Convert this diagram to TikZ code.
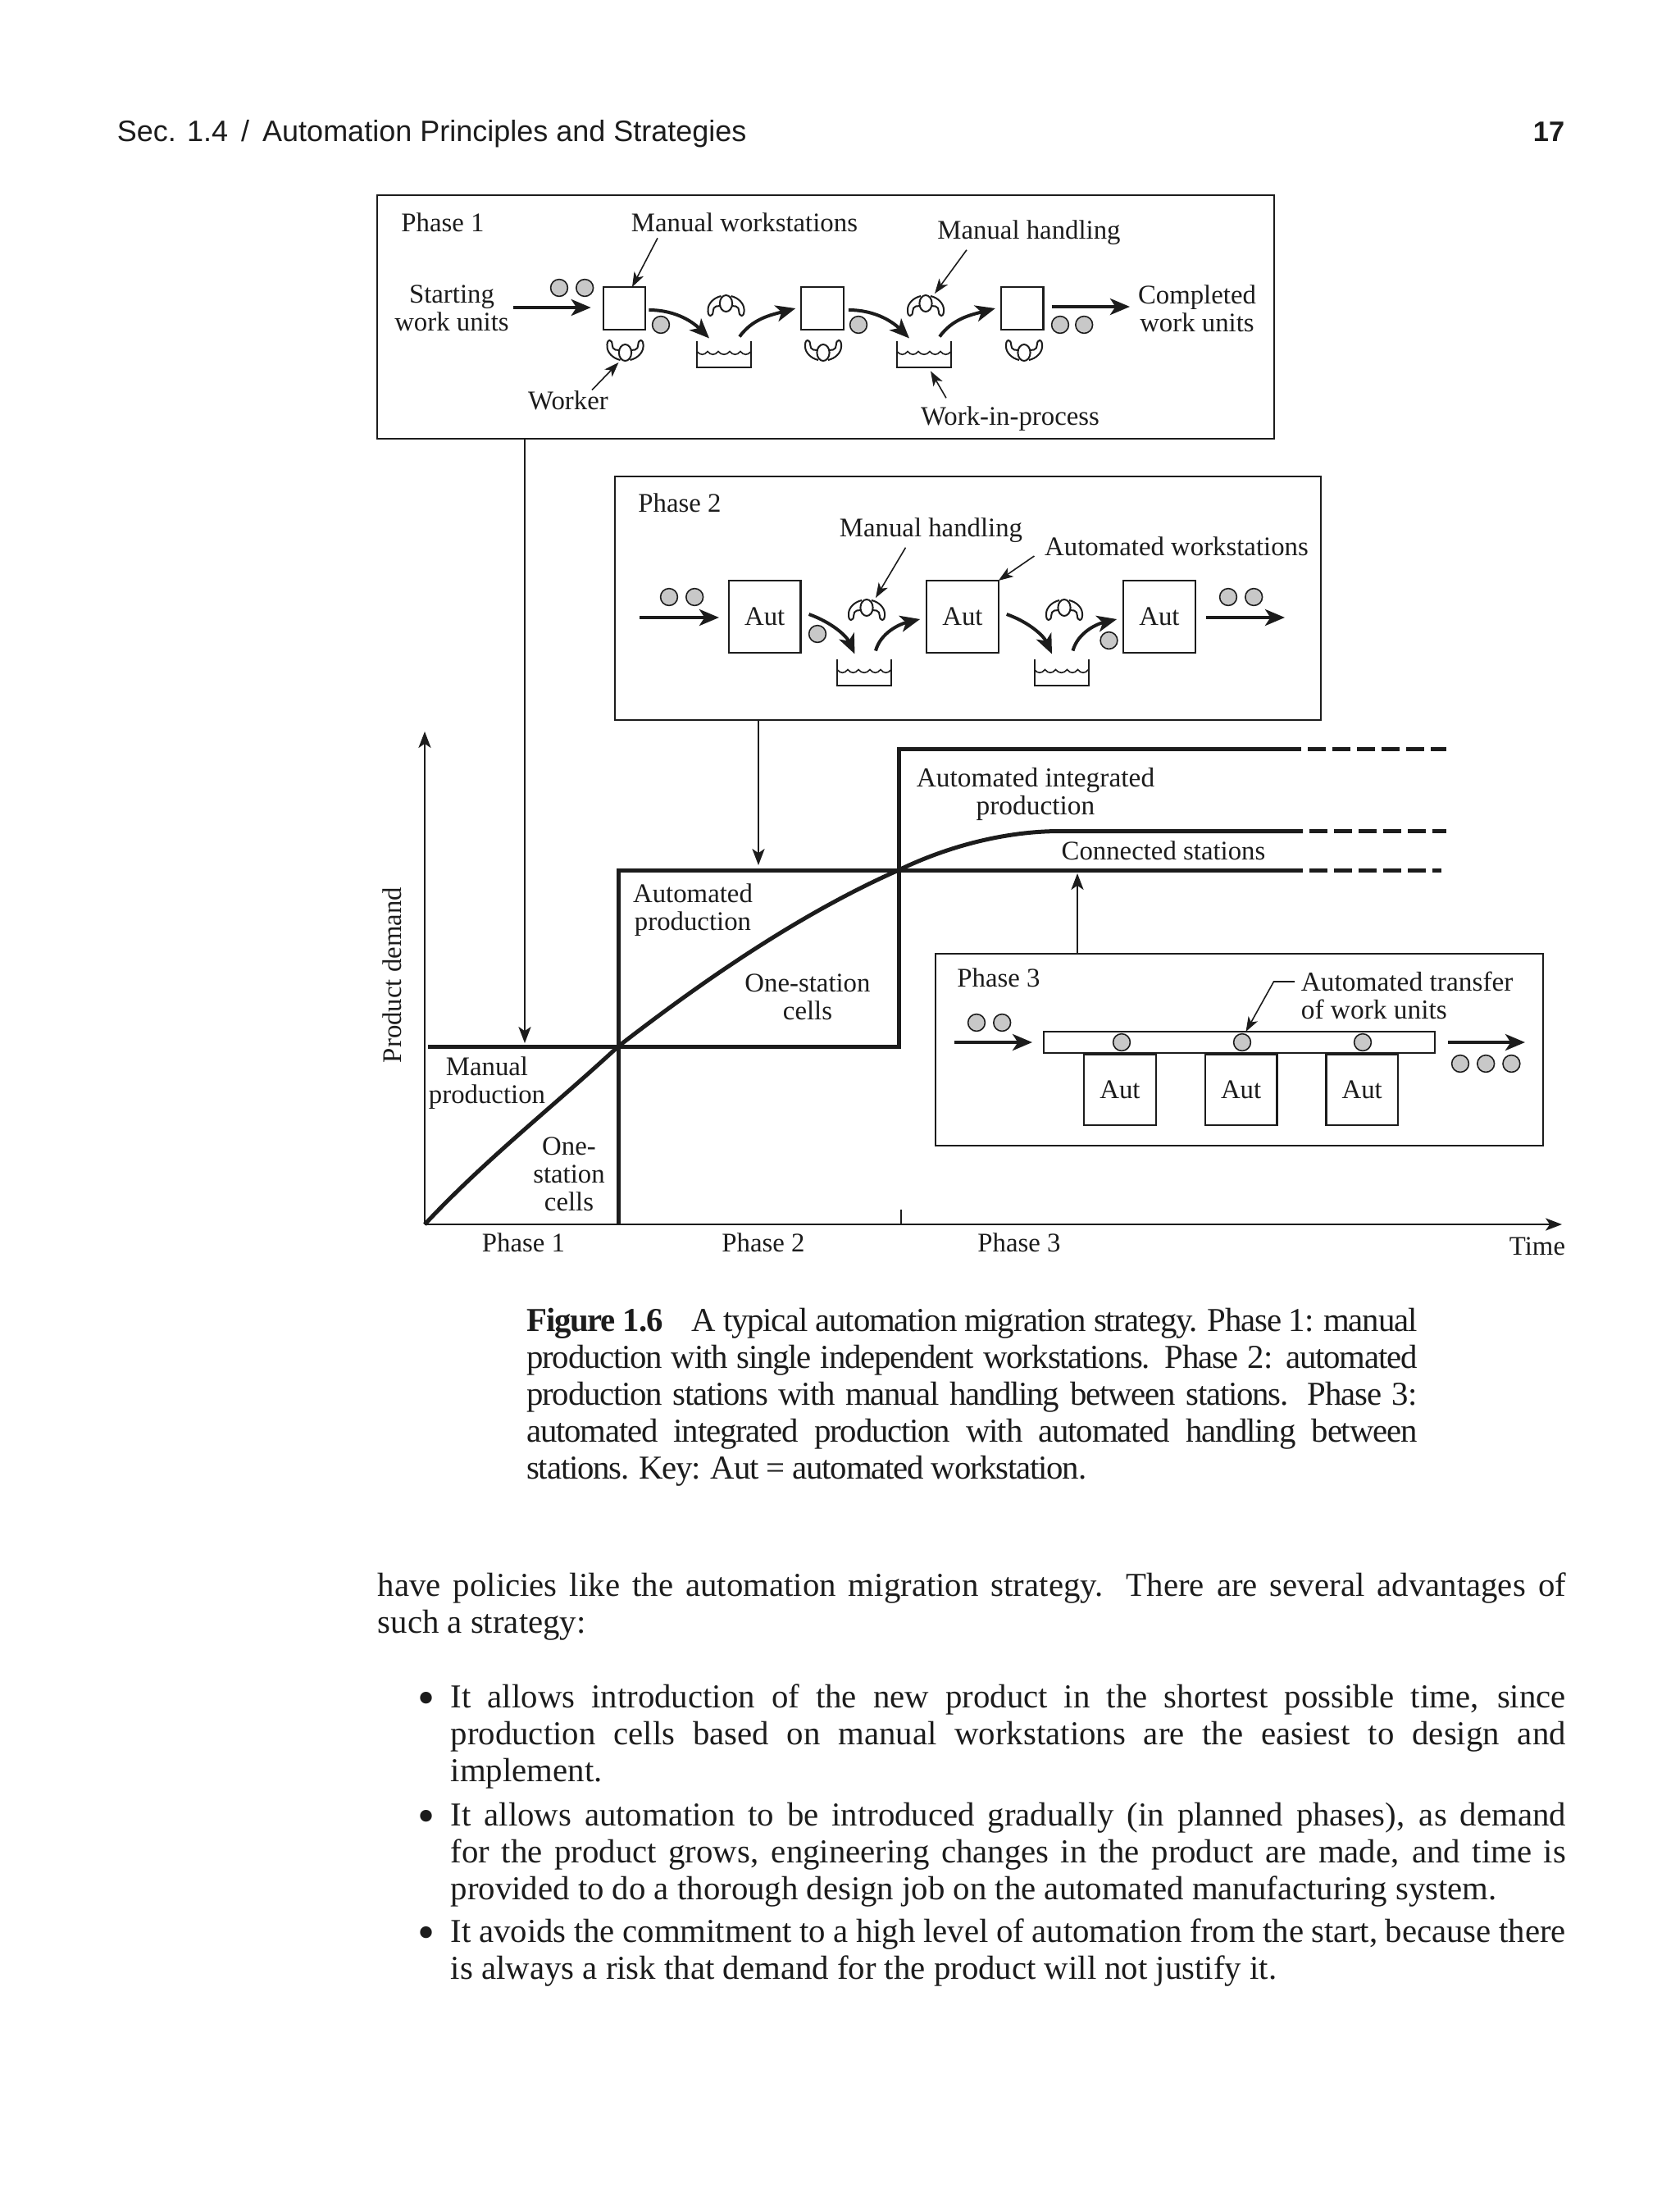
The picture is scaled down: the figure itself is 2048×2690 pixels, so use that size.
\documentclass[tikz,border=0pt]{standalone}
\usepackage{fontspec}
\usepackage{xcolor}
\setmainfont{Liberation Serif}
\newfontfamily\headfont{Liberation Sans}
\newfontfamily\capfont{Liberation Serif}[LetterSpace=-3]
\usetikzlibrary{arrows.meta,positioning}
\definecolor{ink}{RGB}{28,28,28}
\definecolor{partgray}{RGB}{200,200,200}

\begin{document}
\begin{tikzpicture}[
          x=0.25pt, y=-0.25pt,
          color=ink, text=ink,
          font=\fontsize{8.2}{8.5}\selectfont,
          lab/.style={inner sep=0pt, align=center},
          phasebox/.style={draw, line width=0.6pt, inner sep=0pt, outer sep=0pt},
          station/.style={draw, line width=0.55pt, inner sep=0pt, outer sep=0pt, minimum width=12.9pt, minimum height=13pt},
          autbox/.style={draw, line width=0.55pt, inner sep=0pt, outer sep=0pt, minimum width=21.9pt, minimum height=22pt},
          part/.style={circle, draw, line width=0.4pt, fill=partgray, inner sep=0pt, outer sep=0pt, minimum size=5.2pt},
          flow/.style={line width=1pt, -{Stealth[length=6pt, width=5pt, inset=1.6pt]}},
          lead/.style={line width=0.4pt, -{Stealth[length=4.5pt, width=3.2pt, inset=1.2pt]}},
          drop/.style={line width=0.45pt, -{Stealth[length=5pt, width=3.8pt, inset=1.3pt]}},
          stage/.style={line width=1.25pt},
          future/.style={line width=1.25pt, dash pattern=on 5.5pt off 2pt},
          body/.style={inner sep=0pt, anchor=north west, align=justify, font=\fontsize{10.2}{11.25}\selectfont},
          bull/.style={inner sep=0pt, font=\fontsize{15}{15}\selectfont},
          worker/.pic={
            \coordinate (-a) at (-8,12);
            \coordinate (-b) at (11,12);
            \draw[line width=0.5pt] (-7,-3) -- (-12,-3.5) .. controls (-15,-4) and (-15.5,-7) .. (-15.7,-9)
              .. controls (-16,-13) and (-17,-15) .. (-19,-15) .. controls (-21.5,-15) and (-22.3,-11) .. (-22,-7)
              .. controls (-21.7,0) and (-15,7) .. (-6,9);
            \draw[line width=0.5pt] (7,-3) -- (12,-3.5) .. controls (15,-4) and (15.5,-7) .. (15.7,-9)
              .. controls (16,-13) and (17,-15) .. (19,-15) .. controls (21.5,-15) and (22.3,-11) .. (22,-7)
              .. controls (21.7,0) and (15,7) .. (6,9);
            \draw[line width=0.5pt] (0,0) ellipse [x radius=1.9pt, y radius=2.5pt];
          },
          tray/.pic={
            \coordinate (-in) at (-18,-19);
            \coordinate (-out) at (19,-21);
            \coordinate (-base) at (8,21);
            \draw[line width=0.5pt] (-33,-16) -- (-33,16.5) -- (33,16.5) -- (33,-16);
            \draw[line width=0.4pt] (-33,-3) .. controls (-29,2) and (-24,2) .. (-20,-3)
              .. controls (-16,2) and (-11,2) .. (-7,-3) .. controls (-3,2) and (3,2) .. (7,-3)
              .. controls (11,2) and (16,2) .. (20,-3) .. controls (24,2) and (29,2) .. (33,-3);
          }
        ]
          \useasboundingbox (0,0) rectangle (2048,2690);

          \node[lab, anchor=base west, font=\headfont\fontsize{9}{10}\selectfont] (sechead) at (142,172) {Sec. 1.4\ \,/\ \,Automation Principles and Strategies};
          \node[lab, anchor=base east, font=\headfont\bfseries\fontsize{8.6}{10}\selectfont] (pagenum) at (1909,172) {17};

          % phase 1
          \node[phasebox, minimum width=273.5pt, minimum height=74.25pt] (box1) at (1007,386.5) {};
          \node[lab] (p1title) at (540,271) {Phase 1};
          \node[lab] (p1ws) at (908,271) {Manual workstations};
          \node[lab] (p1mh) at (1255,284) {Manual handling};
          \node[lab] (p1start) at (551,376) {Starting\\work units};
          \node[lab] (p1done) at (1460,376) {Completed\\work units};
          \node[lab] (p1worker) at (693,488) {Worker};
          \node[lab] (p1wip) at (1232,511) {Work-in-process};

          \node[station] (ws1) at (761.5,376) {};
          \node[station, right=47.5pt of ws1] (ws2) {};
          \node[station, right=48pt of ws2] (ws3) {};
          \node[part] (p1a) at (682,351) {};
          \node[part, right=2.6pt of p1a] (p1b) {};
          \node[part] (p1c) at (806,396) {};
          \node[part] (p1d) at (1047,396) {};
          \node[part] (p1e) at (1293,396) {};
          \node[part, right=2.1pt of p1e] (p1f) {};

          \pic (w1) at (762.5,430) {worker};
          \pic (w2) at (1004,430) {worker};
          \pic (w3) at (1249,430) {worker};
          \pic[yscale=-1] (w4) at (885.5,370) {worker};
          \pic[yscale=-1] (w5) at (1129,370) {worker};
          \pic (t1) at (883,431.5) {tray};
          \pic (t2) at (1127,431.5) {tray};

          \coordinate (p1inend) at (626,375);
          \coordinate (p1outend) at (1378,374);
          \draw[flow] (p1inend) -- ([xshift=-3.75pt,yshift=0.25pt]ws1.west);
          \draw[flow] ([xshift=1pt,yshift=-0.5pt]ws1.east) .. controls +(35,0) and +(-18,-18) .. (t1-in);
          \draw[flow] (t1-out) .. controls +(16,-22) and +(-30,8) .. ([xshift=-1.75pt]ws2.west);
          \draw[flow] ([xshift=1.5pt,yshift=-0.5pt]ws2.east) .. controls +(35,0) and +(-18,-18) .. (t2-in);
          \draw[flow] (t2-out) .. controls +(16,-22) and +(-30,8) .. ([xshift=-1.75pt]ws3.west);
          \draw[flow] ([xshift=2.5pt,yshift=0.5pt]ws3.east) -- (p1outend);

          \draw[lead] ([xshift=-26.5pt,yshift=-1.75pt]p1ws.south) -- (ws1.70);
          \draw[lead] ([xshift=-19pt,yshift=-1.25pt]p1mh.south) -- (w5-b);
          \draw[lead] ([xshift=7.25pt]p1worker.north) -- (w1-a);
          \draw[lead] ([xshift=-19.5pt,yshift=2.5pt]p1wip.north) -- (t2-base);

          % phase 2
          \node[phasebox, minimum width=215.25pt, minimum height=74.25pt] (box2) at (1180.5,729.5) {};
          \node[lab] (p2title) at (829,613) {Phase 2};
          \node[lab] (p2mh) at (1135.5,647) {Manual handling};
          \node[lab] (p2aw) at (1435,666) {Automated workstations};

          \node[autbox] (a1) at (932.75,752) {Aut};
          \node[autbox, right=38.4pt of a1] (a2) {Aut};
          \node[autbox, right=38.1pt of a2] (a3) {Aut};
          \node[part] (p2a) at (816,728) {};
          \node[part, right=2.6pt of p2a] (p2b) {};
          \node[part] (p2c) at (997,773) {};
          \node[part] (p2d) at (1352.5,781) {};
          \node[part] (p2e) at (1498,728) {};
          \node[part, right=2.6pt of p2e] (p2f) {};

          \pic[yscale=-1] (w6) at (1057,741) {worker};
          \pic[yscale=-1] (w7) at (1298,741) {worker};
          \pic (t3) at (1054,819.5) {tray};
          \pic (t4) at (1294.5,819.5) {tray};

          \coordinate (p2inend) at (780,753);
          \coordinate (p2outend) at (1567,753);
          \draw[flow] (p2inend) -- ([xshift=-3pt,yshift=-0.25pt]a1.west);
          \draw[flow] ([xshift=2.5pt,yshift=0.75pt]a1.east) .. controls +(28,10) and +(-10,-22) .. ([shift={(6.5,-3)}]t3-in);
          \draw[flow] ([shift={(-5,-5)}]t3-out) .. controls +(6,-22) and +(-25,6) .. ([xshift=-2pt,yshift=-0.75pt]a2.west);
          \draw[flow] ([xshift=2.5pt,yshift=0.75pt]a2.east) .. controls +(28,10) and +(-10,-22) .. ([shift={(6.5,-3)}]t4-in);
          \draw[flow] ([shift={(-5,-5)}]t4-out) .. controls +(6,-22) and +(-25,6) .. ([xshift=-2pt,yshift=-0.75pt]a3.west);
          \draw[flow] ([xshift=3.25pt,yshift=-0.25pt]a3.east) -- (p2outend);

          \draw[lead] ([xshift=-7.75pt,yshift=-1.25pt]p2mh.south) -- (w6-b);
          \draw[lead] ([xshift=-3pt,yshift=-3pt]p2aw.west) -- (a2.north east);

          % phase 3
          \node[phasebox, minimum width=185.25pt, minimum height=58.5pt] (box3) at (1511.5,1280) {};
          \node[lab] (p3title) at (1218,1192) {Phase 3};
          \node[lab, align=left, anchor=west, font=\fontsize{8.35}{8.5}\selectfont] (p3trans) at (1586,1214) {Automated transfer\\of work units};

          \node[draw, line width=0.55pt, inner sep=0pt, outer sep=0pt, minimum width=119.25pt, minimum height=6.5pt] (conv) at (1511.5,1271) {};
          \node[autbox, minimum height=21.5pt, minimum width=21.9pt] (a4) at (1366,1329) {Aut};
          \node[autbox, minimum height=21.5pt, right=15pt of a4] (a5) {Aut};
          \node[autbox, minimum height=21.5pt, right=15pt of a5] (a6) {Aut};
          \node[part] (p3a) at (1191,1247) {};
          \node[part, right=2.6pt of p3a] (p3b) {};
          \node[part] (p3c) at (1368,1271) {};
          \node[part] (p3d) at (1515,1271) {};
          \node[part] (p3e) at (1662,1271) {};
          \node[part] (p3f) at (1781,1297) {};
          \node[part, right=2.6pt of p3f] (p3g) {};
          \node[part, right=2.6pt of p3g] (p3h) {};

          \coordinate (p3inend) at (1164,1271);
          \coordinate (p3outend) at (1860,1271);
          \coordinate (p3bend) at (1553.5,1197);
          \draw[flow] (p3inend) -- ([xshift=-3.5pt]conv.west);
          \draw[flow] ([xshift=4pt]conv.east) -- (p3outend);
          \draw[lead] ([yshift=4.25pt,xshift=-1.75pt]p3trans.west) -- (p3bend) -- ([xshift=2pt]conv.north);

          % graph
          \coordinate (orig) at (518,1493);
          \coordinate (ytop) at (518,892);
          \coordinate (xend) at (1905,1493);
          \coordinate (s1) at (754,1276);
          \coordinate (s2) at (1096,1061);
          \coordinate (s3) at (1293,1013.5);
          \coordinate (manualdrop) at (640,1272);
          \coordinate (autodrop) at (925,1055);
          \coordinate (integrup) at (1314,1065);
          \coordinate (tick) at (1099,1475);

          \draw[drop] (orig) -- (ytop);
          \draw[drop] (orig) -- (xend);
          \draw[line width=0.4pt] (tick) -- (tick |- orig);
          \draw[stage] (522,1276) -- (1096,1276) -- (s2);
          \draw[stage] (s1 |- orig) -- (754,1061) -- (1589,1061);
          \draw[stage] (s2) -- (1096,913) -- (1587,913);
          \draw[stage] (orig) .. controls (594,1412) and (674,1350) .. (s1) .. controls (870,1186) and (985,1110) .. (s2)
            .. controls (1160,1030) and (1230,1013.5) .. (s3) -- (1589,1013.5);
          \draw[future] (1595,913) -- (1764,913);
          \draw[future] (1597,1013.5) -- (1764,1013.5);
          \draw[future] (1597,1061) -- (1758,1061);

          \draw[drop] (manualdrop |- box1.south) -- (manualdrop);
          \draw[drop] (autodrop |- box2.south) -- (autodrop);
          \draw[drop] (integrup |- box3.north) -- (integrup);

          \node[lab, rotate=90] (ylabel) at (478,1189) {Product demand};
          \node[lab] (timelabel) at (1875,1520) {Time};
          \node[lab] (t1label) at (638.5,1515) {Phase 1};
          \node[lab] (t2label) at (931,1515) {Phase 2};
          \node[lab] (t3label) at (1243,1515) {Phase 3};
          \node[lab] (manuallabel) at (594,1321) {Manual\\production};
          \node[lab] (onelabel) at (694,1432) {One-\\station\\cells};
          \node[lab] (autolabel) at (845,1110) {Automated\\production};
          \node[lab] (cellslabel) at (985,1216) {One-station\\cells};
          \node[lab, font=\fontsize{8.35}{8.5}\selectfont] (integlabel) at (1263,968) {Automated integrated\\production};
          \node[lab] (connlabel) at (1419,1037) {Connected stations};

          % caption and text
          \node[body, text width=271.5pt, font=\capfont\fontsize{10.2}{11.25}\selectfont] (caption) at (641.5,1594) {\textbf{Figure 1.6}\hspace{0.9em}A typical automation migration strategy. Phase 1: manual\linebreak production with single independent workstations. Phase 2: automated\linebreak production stations with manual handling between stations. Phase 3:\linebreak automated integrated production with automated handling between\linebreak stations. Key: Aut = automated workstation.};
          \node[body, text width=362.25pt] (para) at (460,1917) {have policies like the automation migration strategy. There are several advantages of\linebreak such a strategy:};
          \node[bull] (b1) at (520,2077) {\textbullet};
          \node[body, text width=340pt] (item1) at (549,2053) {It allows introduction of the new product in the shortest possible time, since\linebreak production cells based on manual workstations are the easiest to design and\linebreak implement.};
          \node[bull] (b2) at (520,2221) {\textbullet};
          \node[body, text width=340pt] (item2) at (549,2197) {It allows automation to be introduced gradually (in planned phases), as demand\linebreak for the product grows, engineering changes in the product are made, and time is\linebreak provided to do a thorough design job on the automated manufacturing system.};
          \node[bull] (b3) at (520,2363) {\textbullet};
          \node[body, text width=340pt] (item3) at (549,2339) {It avoids the commitment to a high level of automation from the start, because there\linebreak is always a risk that demand for the product will not justify it.};
        \end{tikzpicture}
\end{document}
